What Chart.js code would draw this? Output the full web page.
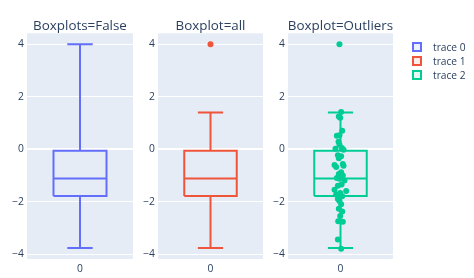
<!DOCTYPE html>
<html>
<head>
<meta charset="utf-8">
<script src="https://cdn.jsdelivr.net/npm/chart.js@4"></script>
<style>
  html, body { margin: 0; padding: 0; background: #fff; }
  #wrap { position: relative; width: 474px; height: 278px; overflow: hidden; }
  canvas { position: absolute; top: 0; }
  #legend { position: absolute; left: 412px; top: 40px; font: 10.2px "Open Sans", sans-serif; color: #2a3f5f; }
  .item { position: relative; height: 14px; line-height: 14px; white-space: nowrap; }
  .sw { position: absolute; left: 0; top: 2px; width: 6px; height: 6px; border: 2px solid; box-sizing: content-box; }
  .lbl { position: absolute; left: 21px; top: 0; }
</style>
</head>
<body>
<div id="wrap">
  <canvas id="c0"></canvas>
  <canvas id="c1"></canvas>
  <canvas id="c2"></canvas>
  <div id="legend"></div>
</div>
<script>
// ---- data ----
const categories = ['0'];
const titles = ['Boxplots=False', 'Boxplot=all', 'Boxplot=Outliers'];
const traceNames = ['trace 0', 'trace 1', 'trace 2'];
const q1 = [-1.79, -1.79, -1.79];
const median = [-1.12, -1.12, -1.12];
const q3 = [-0.06, -0.06, -0.06];
const whiskerLow = [-3.77, -3.77, -3.77];
const whiskerHigh = [4.0, 1.40, 1.40];
const outliers1 = [4.0];
const points2Y = [1.42, 1.25, 1.2, 0.7, 0.51, 0.53, 0.28, 0.17, 0.04, 0.02, -0.02, -0.23, -0.27, -0.35,
  -0.57, -0.63, -0.6, -0.68, -0.88, -0.95, -1.0, -1.1, -1.13, -1.2, -1.35, -1.4, -1.55, -1.6, -1.67,
  -1.73, -1.8, -1.9, -1.98, -2.1, -2.27, -2.38, -2.55, -2.75, -2.77, -3.45, -3.8, 4.0];
const points2Jitter = [0.006, -0.016, -0.003, 0.016, -0.035, -0.01, -0.019, -0.01, 0.013, -0.048, 0.029,
  -0.025, 0.006, -0.016, 0.022, 0.029, -0.057, -0.041, 0.006, -0.016, 0.022, -0.035, -0.01, 0.038, 0.01,
  -0.025, -0.057, 0.054, -0.003, -0.041, 0.016, -0.025, -0.01, 0.006, -0.016, 0.016, -0.003, -0.022,
  0.022, -0.025, 0.006, -0.01];
const yTicks = [-4, -2, 0, 2, 4];
const yRange = [-4.19, 4.42];

// ---- style ----
const colors = ['#636EFA', '#EF553B', '#00CC96'];
const fills = ['rgba(99,110,250,0.10)', 'rgba(239,85,59,0.10)', 'rgba(0,204,150,0.10)'];
const BOX_HALF = 0.25, CAP_HALF = 0.12;
const FONT = '"Open Sans", sans-serif';
const TEXT = '#2a3f5f';
const canvasLeft = [0, 131, 261];
const canvasW = [160, 159, 159];

const bgPlugin = {
  id: 'plotbg',
  beforeDraw(chart) {
    const a = chart.chartArea, ctx = chart.ctx;
    ctx.save();
    ctx.fillStyle = '#E5ECF6';
    ctx.fillRect(a.left, a.top, a.right - a.left, a.bottom - a.top);
    ctx.restore();
  }
};

function boxDatasets(i) {
  const c = colors[i];
  const line = { type: 'scatter', showLine: true, spanGaps: false, borderColor: c, borderWidth: 2,
    pointRadius: 0, backgroundColor: c, fill: false };
  const gap = { x: 0, y: null };
  return [
    Object.assign({}, line, { label: 'box', data: [
      { x: -BOX_HALF, y: q1[i] }, { x: BOX_HALF, y: q1[i] }, { x: BOX_HALF, y: q3[i] },
      { x: -BOX_HALF, y: q3[i] }, { x: -BOX_HALF, y: q1[i] }] }),
    Object.assign({}, line, { label: 'median', data: [
      { x: -BOX_HALF, y: median[i] }, { x: BOX_HALF, y: median[i] }] }),
    Object.assign({}, line, { label: 'whiskers', data: [
      { x: 0, y: q3[i] }, { x: 0, y: whiskerHigh[i] }, gap,
      { x: 0, y: q1[i] }, { x: 0, y: whiskerLow[i] }] }),
    Object.assign({}, line, { label: 'caps', data: [
      { x: -CAP_HALF, y: whiskerHigh[i] }, { x: CAP_HALF, y: whiskerHigh[i] }, gap,
      { x: -CAP_HALF, y: whiskerLow[i] }, { x: CAP_HALF, y: whiskerLow[i] }] })
  ];
}

function makeChart(i) {
  const cv = document.getElementById('c' + i);
  cv.style.left = canvasLeft[i] + 'px';
  cv.width = canvasW[i]; cv.height = 278;
  cv.style.width = canvasW[i] + 'px'; cv.style.height = '278px';
  const ds = boxDatasets(i);
  if (i === 1) {
    ds.push({ type: 'scatter', label: 'points', data: outliers1.map(v => ({ x: 0, y: v })),
      pointRadius: 3, pointHoverRadius: 3, backgroundColor: colors[i], borderWidth: 0 });
  }
  if (i === 2) {
    ds.push({ type: 'scatter', label: 'points', data: points2Y.map((v, k) => ({ x: points2Jitter[k], y: v })),
      pointRadius: 3, pointHoverRadius: 3, backgroundColor: colors[i], borderWidth: 0 });
  }
  return new Chart(cv, {
    type: 'scatter',
    data: { datasets: ds },
    plugins: [bgPlugin],
    options: {
      responsive: false, animation: false, devicePixelRatio: 1,
      layout: { padding: 0 },
      plugins: {
        legend: { display: false }, tooltip: { enabled: false },
        title: { display: true, text: titles[i], color: TEXT,
          font: { family: FONT, size: 13.4, weight: 'normal', lineHeight: 1 },
          padding: { top: 19.5, bottom: 0.4 } }
      },
      scales: {
        x: {
          type: 'linear', min: -0.5, max: 0.5,
          afterBuildTicks: s => { s.ticks = [{ value: 0 }]; },
          afterFit: s => { s.height = 19; },
          ticks: { callback: () => categories[0], color: TEXT, font: { family: FONT, size: 10.3 }, padding: 4, maxRotation: 0 },
          grid: { display: false, drawTicks: false }, border: { display: false }
        },
        y: {
          type: 'linear', position: 'left', min: yRange[0], max: yRange[1],
          afterBuildTicks: s => { s.ticks = yTicks.map(v => ({ value: v })); },
          afterFit: s => { s.width = 27; },
          ticks: { color: TEXT, font: { family: FONT, size: 10.3 }, padding: 3,
            callback: v => (v < 0 ? '\u2212' + Math.abs(v) : String(v)) },
          grid: { color: '#ffffff', drawTicks: false, lineWidth: c => (c.tick && c.tick.value === 0 ? 2 : 1) },
          border: { display: false }
        },
        yR: {
          type: 'linear', position: 'right', display: true,
          afterFit: s => { s.width = 27; },
          ticks: { display: false }, grid: { display: false, drawTicks: false }, border: { display: false }
        }
      }
    }
  });
}

[0, 1, 2].forEach(makeChart);

// legend
const lg = document.getElementById('legend');
traceNames.forEach((n, i) => {
  const it = document.createElement('div'); it.className = 'item';
  const sw = document.createElement('span'); sw.className = 'sw';
  sw.style.borderColor = colors[i]; sw.style.background = fills[i];
  const lb = document.createElement('span'); lb.className = 'lbl'; lb.textContent = n;
  it.appendChild(sw); it.appendChild(lb); lg.appendChild(it);
});
</script>
</body>
</html>
